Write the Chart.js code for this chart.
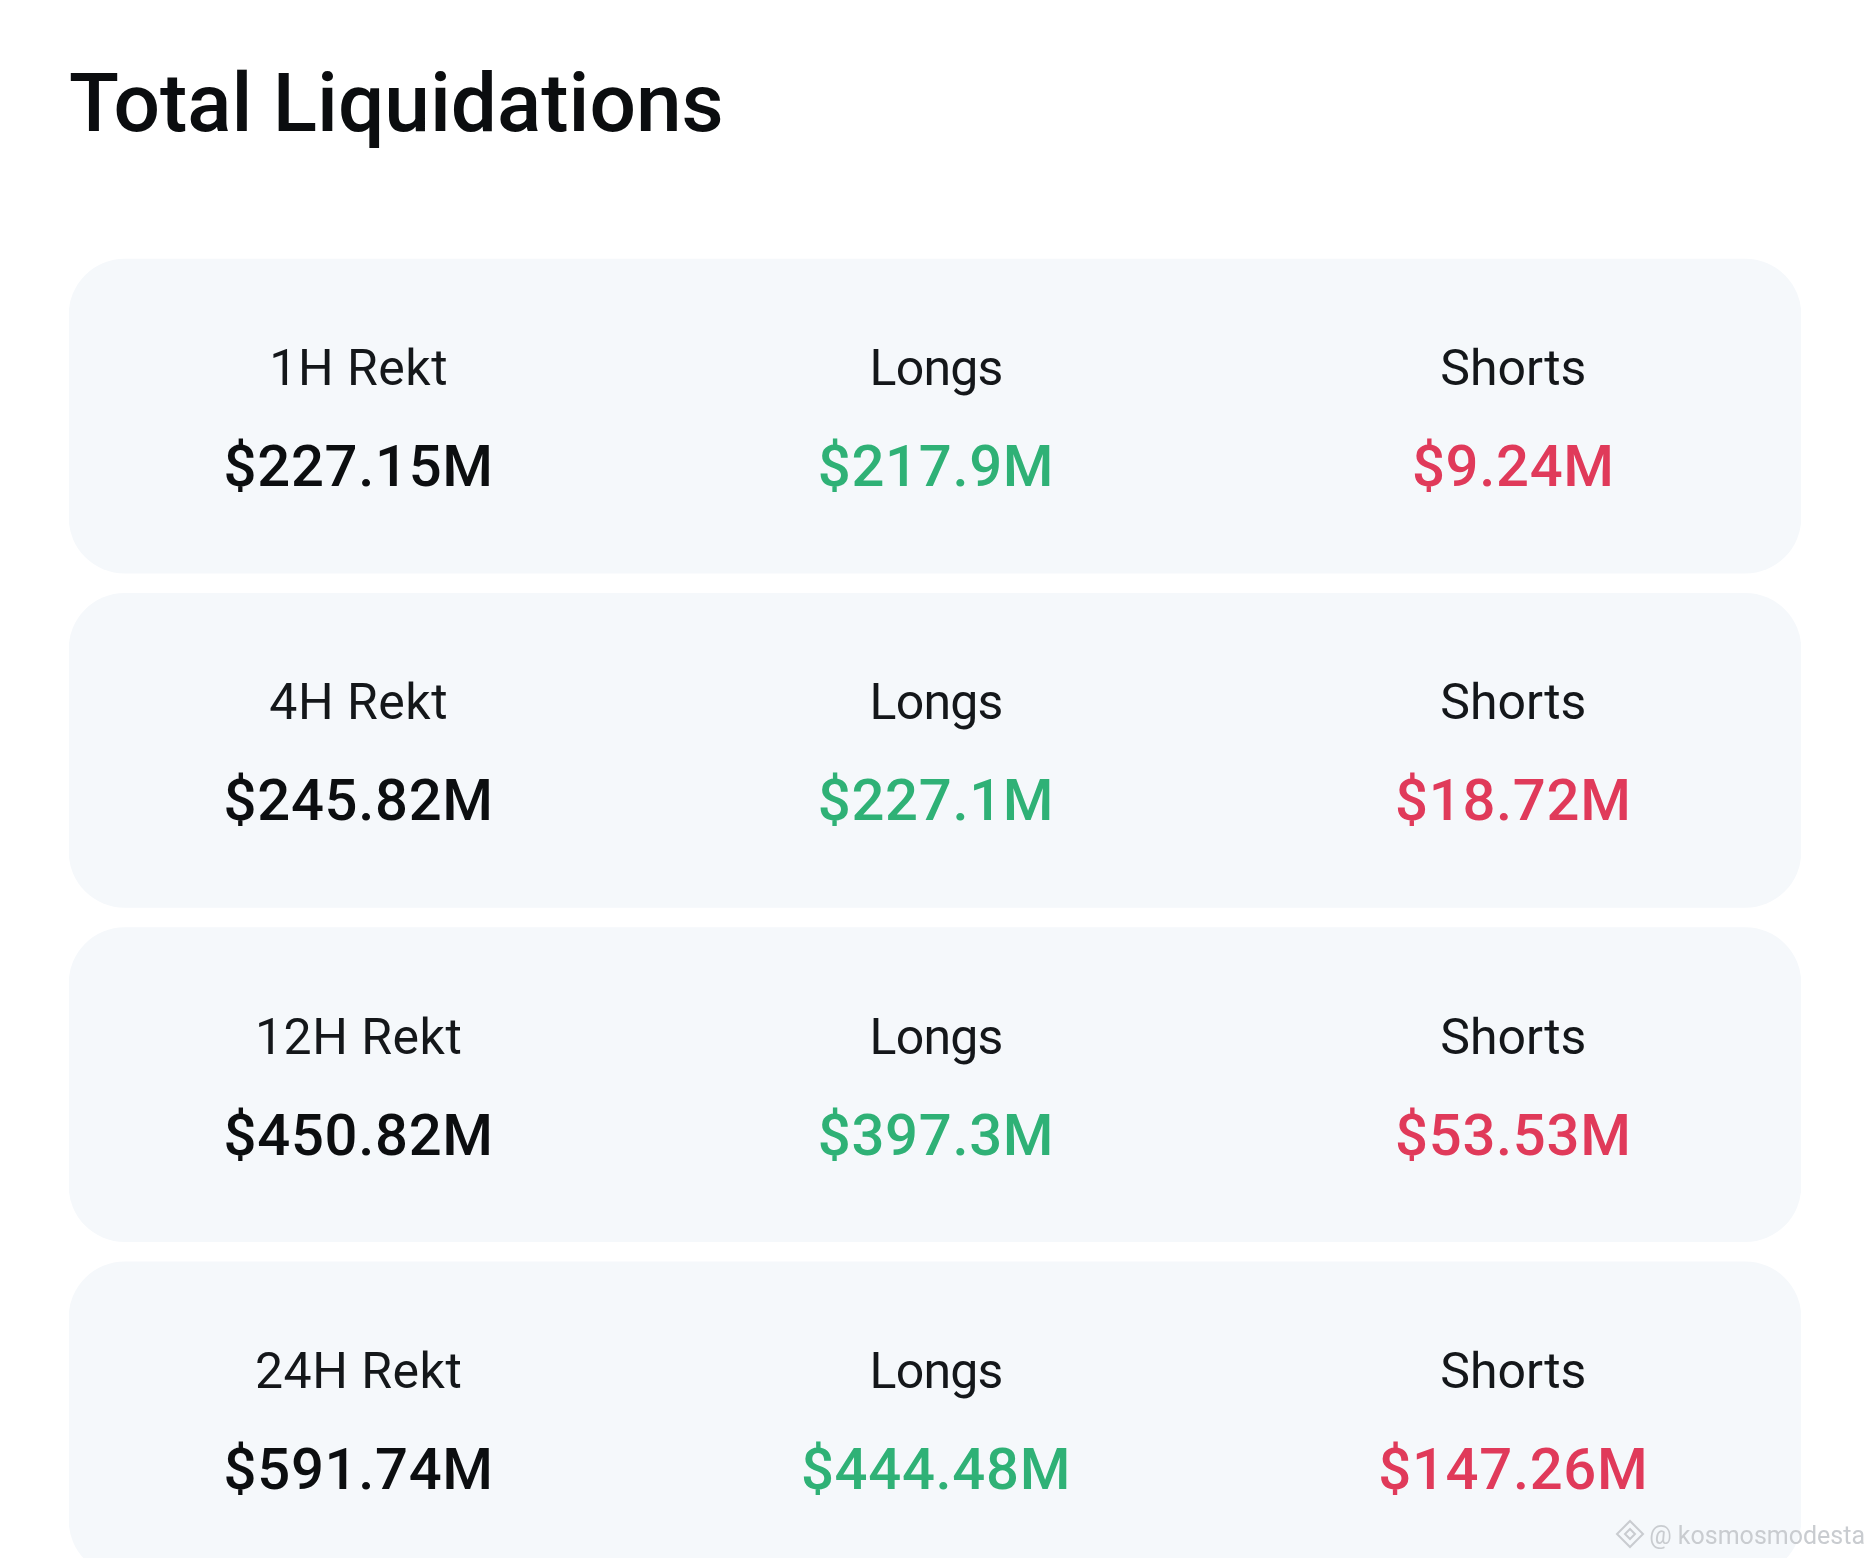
<!DOCTYPE html>
<html>
<head>
<meta charset="UTF-8">
<title>Total Liquidations</title>
<script src="https://cdn.jsdelivr.net/npm/chart.js@4/dist/chart.umd.min.js"></script>
<style>
	html, body { margin:0; padding:0; background:#fff; overflow:hidden; }
	#wrap { position:relative; width:1871px; height:1558px; overflow:hidden; }
</style>
</head>
<body>
<div id="wrap"><canvas id="id_chart" width="1871" height="1600"></canvas></div>
<script>
var TITLE = "Total Liquidations";
var rows = ["1H Rekt", "4H Rekt", "12H Rekt", "24H Rekt"];
var columns = ["Longs", "Shorts"];
var totals = [227.15, 245.82, 450.82, 591.74];
var longs = [217.9, 227.1, 397.3, 444.48];
var shorts = [9.24, 18.72, 53.53, 147.26];
var WATERMARK = "@ kosmosmodesta";

var money = function( v ){ return "$" + v + "M"; };

// 文字はスケール経由で配置する
var drawText = function( ctx, str, x, y, font, color, spacing ){
	ctx.font = font;
	ctx.fillStyle = color;
	ctx.letterSpacing = spacing;
	ctx.textAlign = "center";
	ctx.textBaseline = "alphabetic";
	ctx.fillText( str, x + 1, y );
};

var cellText = {
	id : "cellText",
	afterDatasetsDraw : function( chart ){
		var ctx = chart.ctx, xs = chart.scales.x, ys = chart.scales.y;
		var LABEL = "400 50px Roboto", VALUE = "500 58px Roboto", INK = "#14171a";
		var GREEN = "#2fb176", RED = "#e03a5a";
		ctx.save();
		rows.forEach(function( row, i ){
			var y = ys.getPixelForValue( i );
			drawText( ctx, row, xs.getPixelForValue(0), y - 31, LABEL, INK, "0.5px" );
			drawText( ctx, columns[0], xs.getPixelForValue(1), y - 31, LABEL, INK, "-0.8px" );
			drawText( ctx, columns[1], xs.getPixelForValue(2), y - 31, LABEL, INK, "0px" );
			drawText( ctx, money(totals[i]), xs.getPixelForValue(0), y + 70, VALUE, "#0c0e10", "0.7px" );
			drawText( ctx, money(longs[i]), xs.getPixelForValue(1), y + 70, VALUE, GREEN, "0.7px" );
			drawText( ctx, money(shorts[i]), xs.getPixelForValue(2), y + 70, VALUE, RED, "0.7px" );
		});
		// 透かし
		ctx.font = "400 25px Roboto";
		ctx.fillStyle = "#c9ccd0";
		ctx.letterSpacing = "0px";
		ctx.textAlign = "right";
		ctx.fillText( WATERMARK, 1865, 1544 );
		ctx.strokeStyle = "#c9ccd0";
		ctx.lineWidth = 2;
		ctx.beginPath();
		ctx.moveTo( 1630, 1521 ); ctx.lineTo( 1643, 1534 ); ctx.lineTo( 1630, 1547 );
		ctx.lineTo( 1617, 1534 ); ctx.closePath();
		ctx.moveTo( 1630, 1529 ); ctx.lineTo( 1635, 1534 ); ctx.lineTo( 1630, 1539 );
		ctx.lineTo( 1625, 1534 ); ctx.closePath();
		ctx.stroke();
		ctx.restore();
	}
};

window.onload = function(){
	var ctx = document.getElementById("id_chart").getContext("2d");
	new Chart( ctx, {
		type : "bar",
		data : {
			labels : rows,
			datasets : [{
				data : rows.map(function(){ return [ -0.5, 2.5 ]; }),
				backgroundColor : "#f5f8fb",
				borderRadius : 56,
				borderSkipped : false,
				barThickness : 314
			}]
		},
		options : {
			indexAxis : "y",
			responsive : false,
			animation : false,
			layout : { padding : { left:69, right:70, top:0, bottom:14 } },
			scales : {
				x : { type:"linear", min:-0.5, max:2.5, display:false },
				y : { type:"category", display:false }
			},
			plugins : {
				legend : { display:false },
				tooltip : { enabled:false },
				title : {
					display : true,
					text : TITLE,
					align : "start",
					fullSize : false,
					color : "#0b0d0f",
					font : { family:"Roboto", size:82, weight:"500", lineHeight:1.2 },
					padding : { top:61, bottom:89.6 }
				}
			}
		},
		plugins : [ cellText ]
	});
};
</script>
</body>
</html>
